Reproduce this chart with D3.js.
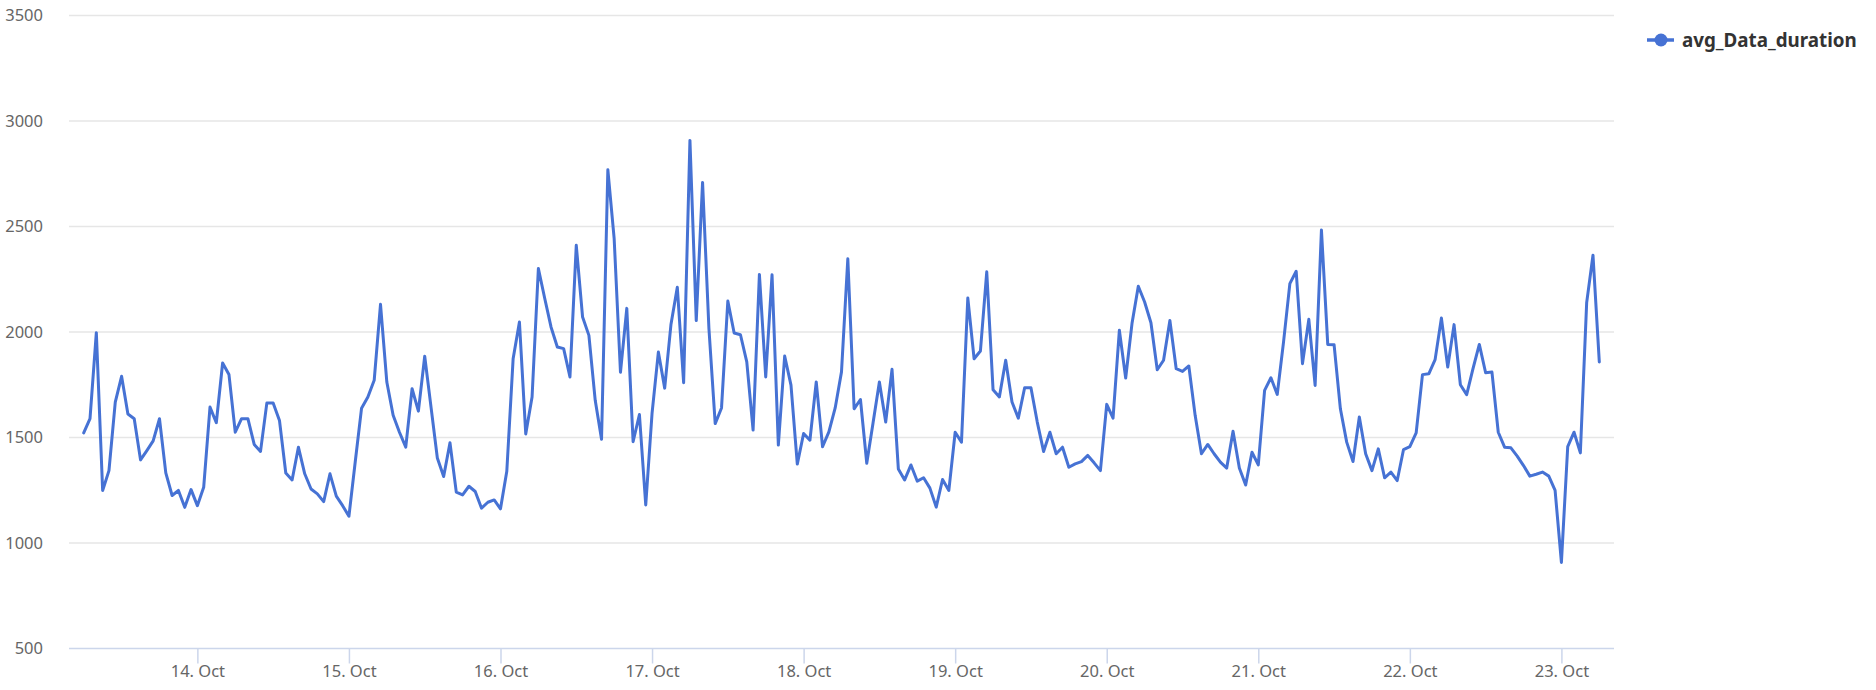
<!DOCTYPE html>
<html>
<head>
<meta charset="utf-8">
<script src="https://cdn.jsdelivr.net/npm/d3@7"></script>
<style>
  html, body { margin: 0; padding: 0; background: #fff; }
  svg { display: block; font-family: "Noto Sans", "Open Sans", sans-serif; }
</style>
</head>
<body>
<svg id="chart" width="1876" height="690"></svg>
<script>
// ---- data ----
const seriesName = "avg_Data_duration";
const startTime = "2023-10-13T06:00:00Z"; // first hourly sample
const stepHours = 1;
const avgDuration = [
  1522,1589,1997,1249,1343,1668,1790,1611,1589,1394,
  1438,1484,1589,1332,1225,1249,1169,1253,1177,1264,
  1644,1570,1853,1799,1525,1589,1589,1467,1434,1663,
  1663,1581,1332,1299,1454,1328,1256,1233,1196,1328,
  1222,1177,1127,1385,1639,1692,1771,2131,1763,1605,
  1525,1454,1731,1625,1885,1644,1403,1315,1475,1241,
  1228,1269,1244,1165,1193,1204,1162,1340,1873,2047,
  1517,1692,2301,2160,2024,1929,1921,1787,2411,2071,
  1984,1676,1492,2769,2442,1809,2112,1480,1609,1180,
  1614,1905,1734,2037,2212,1760,2908,2054,2709,2020,
  1566,1640,2147,1995,1987,1858,1535,2273,1787,2271,
  1464,1886,1748,1374,1519,1487,1763,1456,1527,1640,
  1811,2347,1636,1680,1378,1570,1763,1573,1823,1351,
  1299,1370,1293,1309,1260,1170,1301,1249,1525,1478,
  2161,1873,1910,2285,1726,1692,1866,1668,1592,1736,
  1736,1573,1434,1525,1423,1454,1359,1375,1386,1415,
  1380,1343,1657,1592,2008,1782,2040,2217,2142,2044,
  1821,1866,2055,1826,1813,1839,1605,1423,1467,1423,
  1383,1355,1530,1355,1275,1430,1370,1723,1783,1704,
  1953,2229,2288,1850,2060,1747,2483,1941,1940,1636,
  1478,1386,1597,1423,1343,1446,1309,1336,1296,1443,
  1457,1522,1798,1802,1869,2066,1834,2035,1750,1703,
  1826,1941,1807,1810,1525,1454,1451,1412,1367,1317,
  1326,1336,1317,1249,908,1457,1525,1427,2139,2364,
  1858
];
const yTicks = [500, 1000, 1500, 2000, 2500, 3000, 3500];

// ---- build ----
const t0 = new Date(startTime);
const points = avgDuration.map((v, i) => ({ t: d3.utcHour.offset(t0, i * stepHours), v }));

const svg = d3.select("#chart");
const gridLeft = 69, gridRight = 1614;
const x = d3.scaleUtc()
  .domain(d3.extent(points, d => d.t))
  .range([83.7, 1599.3]);
const y = d3.scaleLinear()
  .domain([d3.min(yTicks), d3.max(yTicks)])
  .range([648.5, 15.5]);

// gridlines
svg.append("g").selectAll("line").data(yTicks.slice(1)).join("line")
  .attr("x1", gridLeft).attr("x2", gridRight)
  .attr("y1", d => y(d)).attr("y2", d => y(d))
  .attr("stroke", "#e6e6e6").attr("stroke-width", 1.5);

// y labels
svg.append("g").selectAll("text").data(yTicks).join("text")
  .attr("x", 43).attr("y", d => y(d)).attr("dy", "0.35em")
  .attr("text-anchor", "end")
  .attr("fill", "#666666").attr("font-size", 16.5)
  .text(d => d);

// x axis
const xAxis = d3.axisBottom(x)
  .ticks(d3.utcDay.every(1))
  .tickFormat(d3.utcFormat("%-d. %b"))
  .tickSize(15).tickSizeOuter(0);
const gx = svg.append("g").attr("transform", `translate(0,${y(500)})`).call(xAxis);
gx.select(".domain").remove();
gx.append("line").attr("x1", gridLeft).attr("x2", gridRight).attr("y1", 0).attr("y2", 0)
  .attr("stroke", "#ccd6eb").attr("stroke-width", 1.5);
gx.selectAll(".tick line").attr("stroke", "#ccd6eb").attr("stroke-width", 1.5);
gx.selectAll(".tick text").attr("fill", "#666666").attr("font-size", 16.5)
  .attr("font-family", "Noto Sans, Open Sans, sans-serif").attr("y", 17).attr("dy", "0.71em");

// line
const line = d3.line().x(d => x(d.t)).y(d => y(d.v));
svg.append("path").datum(points)
  .attr("d", line)
  .attr("fill", "none").attr("stroke", "#4672d4").attr("stroke-width", 3)
  .attr("stroke-linejoin", "round").attr("stroke-linecap", "round");

// legend
const lg = svg.append("g").attr("transform", "translate(1647,40)");
lg.append("line").attr("x1", 0).attr("x2", 27).attr("y1", 0).attr("y2", 0)
  .attr("stroke", "#4672d4").attr("stroke-width", 3.5);
lg.append("circle").attr("cx", 14).attr("cy", 0).attr("r", 6.5).attr("fill", "#4672d4");
lg.append("text").attr("x", 35).attr("y", 0).attr("dy", "0.35em")
  .attr("fill", "#333333").attr("font-size", 18.8).attr("font-weight", "bold")
  .text(seriesName);
</script>
</body>
</html>
